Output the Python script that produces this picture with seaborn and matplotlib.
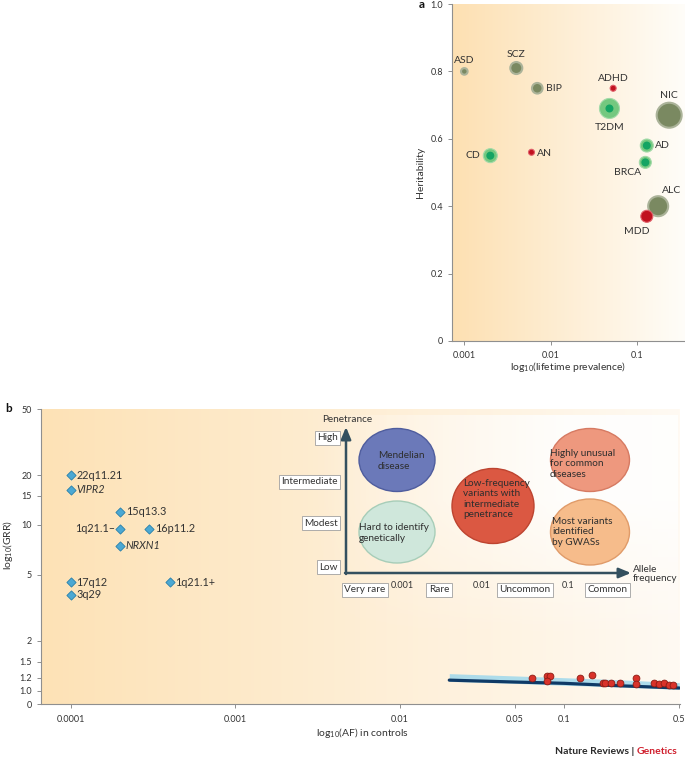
import numpy as np
import pandas as pd
import seaborn as sns
import matplotlib.pyplot as plt
from matplotlib.colors import LinearSegmentedColormap
from matplotlib.patches import Ellipse

# ---- panel a: heritability vs lifetime prevalence ----
diseases = ["ASD", "SCZ", "BIP", "ADHD", "T2DM", "NIC", "AD", "BRCA", "CD", "AN", "ALC", "MDD"]
prevalence = [0.001, 0.004, 0.007, 0.053, 0.048, 0.236, 0.13, 0.125, 0.002, 0.006, 0.176, 0.13]
heritability = [0.80, 0.81, 0.75, 0.75, 0.69, 0.67, 0.58, 0.53, 0.55, 0.56, 0.40, 0.37]
bubble = [3.3, 6, 5.3, 3, 10, 12.5, 6.5, 6, 7, 3, 10, 6]
group = ["olive", "olive", "olive", "red", "green", "olive", "green", "green", "green", "red", "olive", "red"]

# ---- panel b: CNVs and common variants ----
cnv_names = ["22q11.21", "VIPR2", "15q13.3", "1q21.1–", "16p11.2", "NRXN1", "17q12", "1q21.1+", "3q29"]
cnv_af = [0.0001, 0.0001, 0.0002, 0.0002, 0.0003, 0.0002, 0.0001, 0.0004, 0.0001]
cnv_grr = [20, 16.3, 12, 9.5, 9.5, 7.5, 4.5, 4.5, 3.8]

common_af = [0.064, 0.078, 0.082, 0.078, 0.124, 0.147, 0.171, 0.176, 0.192, 0.219,
             0.274, 0.274, 0.352, 0.378, 0.404, 0.435, 0.459]
common_grr = [1.20, 1.23, 1.23, 1.15, 1.20, 1.25, 1.12, 1.12, 1.11, 1.12,
              1.19, 1.10, 1.11, 1.10, 1.11, 1.09, 1.09]

line_af = [0.02, 0.05, 0.1, 0.2, 0.5]
line_grr = [1.16, 1.13, 1.11, 1.076, 1.04]
band_lo = [1.14, 1.11, 1.08, 1.06, 1.02]
band_hi = [1.27, 1.23, 1.20, 1.17, 1.12]

W, H = 685, 757


def px(x, y):
    return x / W, 1 - y / H


sns.set_theme(style="white")
plt.rcParams['font.family'] = ['Lato', 'DejaVu Sans']
plt.rcParams['mathtext.fontset'] = 'custom'
plt.rcParams['mathtext.rm'] = 'Lato'
plt.rcParams['mathtext.it'] = 'Lato:italic'
plt.rcParams['mathtext.default'] = 'regular'

fig = plt.figure(figsize=(W / 100, H / 100), dpi=100)

grey = "#8f8f8f"
txt = "#333333"


def gradient(ax, left, right):
    cmap = LinearSegmentedColormap.from_list("bg", [left, right])
    ax.imshow(np.linspace(0, 1, 256)[None, :], cmap=cmap, aspect="auto",
              extent=[0, 1, 0, 1], transform=ax.transAxes, zorder=0)


def style_axes(ax):
    for s in ["top", "right"]:
        ax.spines[s].set_visible(False)
    for s in ["left", "bottom"]:
        ax.spines[s].set_color(grey)
        ax.spines[s].set_linewidth(0.8)
    ax.tick_params(direction="out", length=3, width=0.7, color=grey,
                   labelcolor=txt, labelsize=6.5, left=True, bottom=True)


# panel a
ax_a = fig.add_axes([452 / W, 1 - 341 / H, (W - 452) / W, (341 - 4) / H])
gradient(ax_a, "#fde0b2", "#fffdf9")
df_a = pd.DataFrame({"disease": diseases, "prev": prevalence, "h2": heritability,
                     "r": bubble, "group": group})
df_a["s"] = (2 * df_a["r"] * 0.72) ** 2

olive = df_a[df_a.group == "olive"]
sns.scatterplot(data=olive, x="prev", y="h2", s=olive["s"], color="#7a8961",
                edgecolor="#abb399", linewidth=1.5, ax=ax_a, zorder=3)
green = df_a[df_a.group == "green"]
sns.scatterplot(data=green, x="prev", y="h2", s=green["s"], color="#74c87f",
                edgecolor="#a3daa9", linewidth=0.8, ax=ax_a, zorder=3)
sns.scatterplot(data=green, x="prev", y="h2", s=(2 * 4 * 0.72) ** 2, color="#14a463",
                edgecolor="none", ax=ax_a, zorder=4)
red = df_a[df_a.group == "red"]
sns.scatterplot(data=red, x="prev", y="h2", s=red["s"], color="#c1121f",
                edgecolor="#e0606a", linewidth=0.8, ax=ax_a, zorder=3)

# label offsets in points
offsets = {
    "ASD": (0, 8, "center"), "SCZ": (0, 10, "center"), "BIP": (6, 0, "left"),
    "ADHD": (0, 7, "center"), "T2DM": (0, -14, "center"), "NIC": (0, 14, "center"),
    "AD": (6, 0, "left"), "BRCA": (-13, -7, "center"), "CD": (-7, 0, "right"),
    "AN": (4, -1, "left"), "ALC": (10, 11, "center"), "MDD": (-7, -11, "center"),
}
for name, x, y in zip(diseases, prevalence, heritability):
    dx, dy, ha = offsets[name]
    ax_a.annotate(name, (x, y), xytext=(dx, dy), textcoords="offset points",
                  ha=ha, va="center", fontsize=7.5, color=txt, zorder=5)

ax_a.set_xscale("log")
ax_a.set_xlim(0.00072, 0.36)
ax_a.set_ylim(0, 1.0)
ax_a.set_xticks([0.001, 0.01, 0.1])
ax_a.set_xticklabels(["0.001", "0.01", "0.1"])
ax_a.set_yticks([0, 0.2, 0.4, 0.6, 0.8, 1.0])
ax_a.set_yticklabels(["0", "0.2", "0.4", "0.6", "0.8", "1.0"])
ax_a.minorticks_off()
ax_a.set_xlabel("")
ax_a.set_ylabel("")
style_axes(ax_a)
ax_a.tick_params(axis="x", pad=4)

# panel b
ax_b = fig.add_axes([41 / W, 1 - 704 / H, (680 - 41) / W, (704 - 409) / H])
gradient(ax_b, "#fde2b6", "#fffaf3")
ax_b.set_xscale("log")
ax_b.set_yscale("log")

ax_b.fill_between(line_af, band_lo, band_hi, color="#9fd8ec", alpha=0.85, lw=0, zorder=2)
sns.lineplot(x=line_af, y=line_grr, color="#0f3a66", lw=2.3, ax=ax_b, zorder=3)
sns.scatterplot(x=common_af, y=common_grr, s=24, color="#d9322a",
                edgecolor="#8c1c14", linewidth=0.6, ax=ax_b, zorder=4)
sns.scatterplot(x=cnv_af, y=cnv_grr, marker="D", s=22, color="#4ba8d3",
                edgecolor="#2a80aa", linewidth=0.6, ax=ax_b, zorder=4)
for name, x, y in zip(cnv_names, cnv_af, cnv_grr):
    italic = name in ("VIPR2", "NRXN1")
    if name == "1q21.1–":
        ax_b.annotate(name, (x, y), xytext=(-4, 0), textcoords="offset points",
                      ha="right", va="center", fontsize=7.8, color=txt)
    else:
        ax_b.annotate(name, (x, y), xytext=(4, 0), textcoords="offset points",
                      ha="left", va="center", fontsize=7.8, color=txt,
                      style="italic" if italic else "normal")

ax_b.set_xlim(6.6e-5, 0.505)
ax_b.set_ylim(0.833, 50)
ax_b.set_xticks([0.0001, 0.001, 0.01, 0.05, 0.1, 0.5])
ax_b.set_xticklabels(["0.0001", "0.001", "0.01", "0.05", "0.1", "0.5"])
ax_b.set_yticks([0.833, 1.0, 1.2, 1.5, 2, 5, 10, 15, 20, 50])
ax_b.set_yticklabels(["0", "1.0", "1.2", "1.5", "2", "5", "10", "15", "20", "50"])
ax_b.minorticks_off()
ax_b.set_xlabel("")
ax_b.set_ylabel("")
style_axes(ax_b)
ax_b.tick_params(axis="x", pad=5)

# inset schematic drawn in pixel coordinates
ov = fig.add_axes([0, 0, 1, 1], facecolor="none")
ov.set_xlim(0, W)
ov.set_ylim(H, 0)
ov.axis("off")

fade = np.ones((60, 200, 4))
fade[..., 3] = np.clip(np.linspace(0, 1.2, 200), 0, 0.85)[None, :] * \
    np.clip(np.linspace(1.6, 0, 60), 0, 1)[:, None]
ov.imshow(fade, extent=[310, 678, 640, 415], aspect="auto", zorder=1)

ellipses = [
    (397, 460, 76, 63, "#6b79b9", "#4f5d9e", "Mendelian\ndisease", 378, 461),
    (397, 532, 76, 62, "#cfe7db", "#a7cdb8", "Hard to identify\ngenetically", 359, 533),
    (493, 506, 82, 75, "#db5842", "#bd4430", "Low-frequency\nvariants with\nintermediate\npenetrance", 463, 499),
    (590, 460, 79, 63, "#ee987e", "#d67a62", "Highly unusual\nfor common\ndiseases", 550, 464),
    (590, 532, 79, 66, "#f6bc8b", "#e09b69", "Most variants\nidentified\nby GWASs", 552, 532),
]
for cx, cy, w, h, fc, ec, label, tx, ty in ellipses:
    ov.add_patch(Ellipse((cx, cy), w, h, facecolor=fc, edgecolor=ec, lw=1.0, zorder=2))
    ov.text(tx, ty, label, ha="left", va="center", fontsize=7.2, color="#2e2e2e",
            linespacing=1.15, zorder=3)

arrow = dict(arrowstyle="-|>,head_length=0.6,head_width=0.25", color="#34505f", lw=1.8,
             shrinkA=0, shrinkB=0)
ov.annotate("", xy=(346, 427), xytext=(346, 574), arrowprops=arrow, zorder=3)
ov.annotate("", xy=(631, 573), xytext=(345, 573), arrowprops=arrow, zorder=3)

box = dict(boxstyle="square,pad=0.25", facecolor="white", edgecolor="#a0a0a0", lw=0.6)
for label, y in [("High", 438), ("Intermediate", 482), ("Modest", 523), ("Low", 567)]:
    ov.text(338, y, label, ha="right", va="center", fontsize=7.2, color=txt, bbox=box, zorder=3)
for label, x in [("Very rare", 365), ("Rare", 439), ("Uncommon", 525), ("Common", 608)]:
    ov.text(x, 590, label, ha="center", va="center", fontsize=7.2, color=txt, bbox=box, zorder=3)
for label, x in [("0.001", 402), ("0.01", 482), ("0.1", 568)]:
    ov.text(x, 585, label, ha="center", va="center", fontsize=6.5, color=txt, zorder=3)
ov.text(322, 419, "Penetrance", ha="left", va="center", fontsize=7.2, color=txt, zorder=3)
ov.text(633, 574, "Allele\nfrequency", ha="left", va="center", fontsize=7.2, color=txt,
        linespacing=1.05, zorder=3)

# axis titles, panel letters, footer
fig.text(*px(421, 172), "Heritability", rotation=90, ha="center", va="center",
         fontsize=7.5, color=txt)
fig.text(*px(568, 367), "log$_{10}$(lifetime prevalence)", ha="center", va="center",
         fontsize=7.5, color=txt)
fig.text(*px(8, 545), "log$_{10}$(GRR)", rotation=90, ha="center", va="center",
         fontsize=7.5, color=txt)
fig.text(*px(363, 733), "log$_{10}$(AF) in controls", ha="center", va="center",
         fontsize=7.5, color=txt)
fig.text(*px(422, 5), "a", ha="center", va="center", fontsize=8.5, weight="bold", color="#111")
fig.text(*px(9, 409), "b", ha="center", va="center", fontsize=8.5, weight="bold", color="#111")
fig.text(*px(637, 751), "Nature Reviews | ", ha="right", va="center", fontsize=7.5,
         weight="bold", color="#2a2a2a")
fig.text(*px(637, 751), "Genetics", ha="left", va="center", fontsize=7.5,
         weight="bold", color="#d0202e")

fig.savefig("out.png", dpi=100)
